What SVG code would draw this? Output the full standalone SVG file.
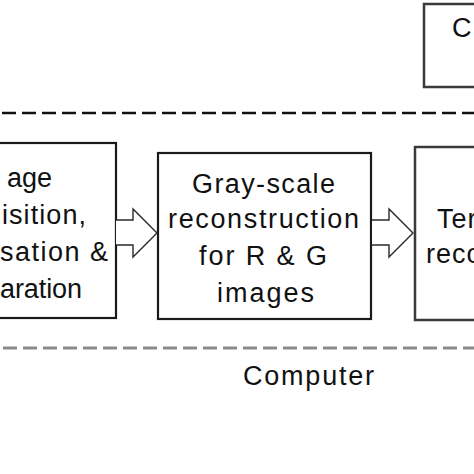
<svg xmlns="http://www.w3.org/2000/svg" width="474" height="474" viewBox="0 0 474 474">
<style>
.box{fill:#fff;stroke:#1a1a1a;stroke-width:2.2}
.box2{fill:#fff;stroke:#3a3a3a;stroke-width:2.5}
.t{font-family:"Liberation Sans",Arial,sans-serif;font-size:27px;fill:#111}
.arr{fill:#fff;stroke:#2a2a2a;stroke-width:1.4;stroke-linejoin:miter}
</style>
<rect width="474" height="474" fill="#fff"/>
<g id="dividers">
<line x1="2" y1="113" x2="474" y2="113" stroke="#111" stroke-width="2.5" stroke-dasharray="14 6"/>
<line x1="3" y1="348" x2="474" y2="348" stroke="#8a8a8a" stroke-width="3" stroke-dasharray="14 6"/>
</g>
<g id="node-camera">
<rect class="box2" x="424" y="4" width="60" height="83"/>
<text class="t" x="452" y="37">C</text>
</g>
<g id="node-acquisition">
<rect class="box" x="-10" y="143" width="126" height="175"/>
<text class="t" x="7" y="187" textLength="45" lengthAdjust="spacing">age</text>
<text class="t" x="2" y="224" textLength="84" lengthAdjust="spacing">isition,</text>
<text class="t" x="0" y="261" textLength="108" lengthAdjust="spacing">sation &amp;</text>
<text class="t" x="0" y="298" textLength="82" lengthAdjust="spacing">aration</text>
</g>
<g id="node-grayscale">
<rect class="box" x="158" y="153" width="213" height="166"/>
<text class="t" x="192" y="193" textLength="143" lengthAdjust="spacing">Gray-scale</text>
<text class="t" x="168" y="228" textLength="191" lengthAdjust="spacing">reconstruction</text>
<text class="t" x="199" y="265" textLength="128" lengthAdjust="spacing">for R &amp; G</text>
<text class="t" x="217" y="302" textLength="97" lengthAdjust="spacing">images</text>
</g>
<g id="node-temperature">
<rect class="box2" x="415" y="147" width="70" height="173"/>
<text class="t" x="437" y="228" letter-spacing="1">Ter</text>
<text class="t" x="426" y="263" letter-spacing="1">reco</text>
</g>
<g id="connectors">
<polyline class="arr" points="116,220 133,220 133,209 157,233 133,257 133,245 116,245"/>
<polyline class="arr" points="372,220 389,220 389,209 413,233 389,257 389,245 372,245"/>
</g>
<g id="label-computer">
<text class="t" x="243" y="385" textLength="131" lengthAdjust="spacing">Computer</text>
</g>
</svg>
